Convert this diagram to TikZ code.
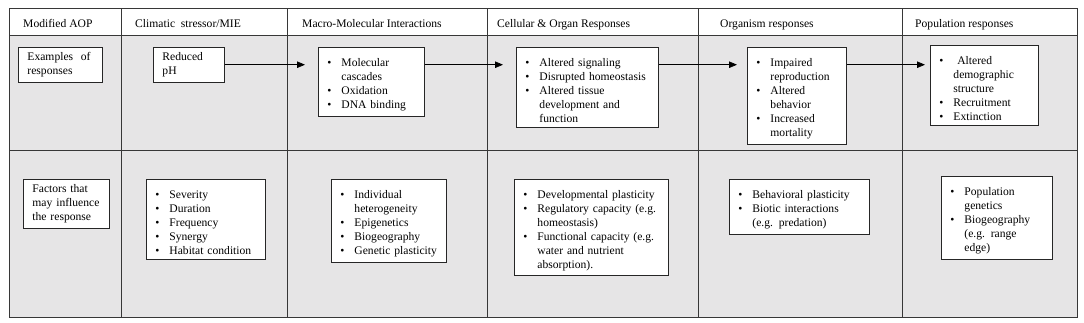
\documentclass[tikz,border=0pt]{standalone}
\usepackage{fontspec}
\setmainfont{Liberation Serif}
\usetikzlibrary{arrows.meta}
\definecolor{cellgray}{RGB}{230,229,230}
\definecolor{rulegray}{RGB}{55,55,55}
\newcommand{\bul}{\par\hangindent=14pt\hangafter=1\noindent\makebox[14pt][l]{\textbullet}}
\newcommand{\nl}{\hfil\break}

\begin{document}
\begin{tikzpicture}[x=1pt, y=-1pt,
    hdr/.style={anchor=base west, inner sep=0pt, font=\fontsize{11.6}{14}\selectfont},
    box/.style={draw=black!85, line width=0.9pt, fill=white, anchor=north west, align=left,
        inner xsep=9pt, inner ysep=5pt, font=\fontsize{11.6}{14}\selectfont},
    arr/.style={-{Triangle[length=8pt,width=6.5pt]}, line width=0.8pt}
]
    \useasboundingbox (0,0) rectangle (1084,322);

    % table
    \fill[white] (9,8) rectangle (1077,35);
    \fill[cellgray] (9,35) rectangle (1077,317);
    \draw[rulegray, line width=0.8pt] (9,8) rectangle (1077,317);
    \draw[rulegray, line width=0.8pt] (9,35) -- (1077,35) (9,150) -- (1077,150);
    \foreach \x in {121,287,487,698,902}
        \draw[rulegray, line width=0.8pt] (\x,8) -- (\x,317);

    % headers
    \node[hdr] (hAOP) at (23,27) {Modified AOP};
    \node[hdr] (hMIE) at (135,27) {Climatic\ \ stressor/MIE};
    \node[hdr] (hMol) at (302,27) {Macro-Molecular Interactions};
    \node[hdr] (hCell) at (497,27) {Cellular \& Organ Responses};
    \node[hdr] (hOrg) at (720,27) {Organism responses};
    \node[hdr] (hPop) at (915,27) {Population responses};

    % examples of responses
    \node[box, text width=66pt] (ex) at (18,47) {Examples\ \ of\nl responses};
    \node[box, text width=53pt] (ph) at (153,47) {Reduced\nl pH};
    \node[box, text width=88pt] (mol) at (318,47) {\bul Molecular\nl cascades \bul Oxidation \bul DNA binding\par};
    \node[box, text width=124pt] (cell) at (516,47) {\bul Altered signaling \bul Disrupted homeostasis
        \bul Altered tissue\nl development and\nl function\par};
    \node[box, text width=81pt] (org) at (747,47) {\bul Impaired\nl reproduction \bul Altered\nl behavior
        \bul Increased\nl mortality\par};
    \node[box, text width=90pt] (pop) at (930,45) {\bul \ Altered\nl demographic\nl structure
        \bul Recruitment \bul Extinction\par};

    % factors
    \node[box, text width=68pt] (fac) at (23,179) {Factors that\nl may influence\nl the response};
    \node[box, text width=101pt] (sev) at (146,179) {\bul Severity \bul Duration \bul Frequency
        \bul Synergy \bul Habitat condition\par};
    \node[box, text width=97pt] (ind) at (331,179) {\bul Individual\nl heterogeneity \bul Epigenetics
        \bul Biogeography \bul Genetic plasticity\par};
    \node[box, text width=136pt] (dev) at (514,179) {\bul Developmental plasticity
        \bul Regulatory capacity (e.g.\nl homeostasis) \bul Functional capacity (e.g.\nl water and nutrient\nl absorption).\par};
    \node[box, text width=122pt] (beh) at (729,179) {\bul Behavioral plasticity
        \bul Biotic interactions\nl (e.g. predation)\par};
    \node[box, text width=93pt] (popg) at (941,176) {\bul Population\nl genetics
        \bul Biogeography\nl (e.g. range\nl edge)\par};

    % arrows
    \draw[arr, shorten >=13pt] (ph.east) -- (ph.east -| mol.west);
    \draw[arr, shorten >=13pt] (ph.east -| mol.east) -- (ph.east -| cell.west);
    \draw[arr, shorten >=10pt] (ph.east -| cell.east) -- (ph.east -| org.west);
    \draw[arr, shorten >=5pt] (ph.east -| org.east) -- (ph.east -| pop.west);
\end{tikzpicture}
\end{document}
